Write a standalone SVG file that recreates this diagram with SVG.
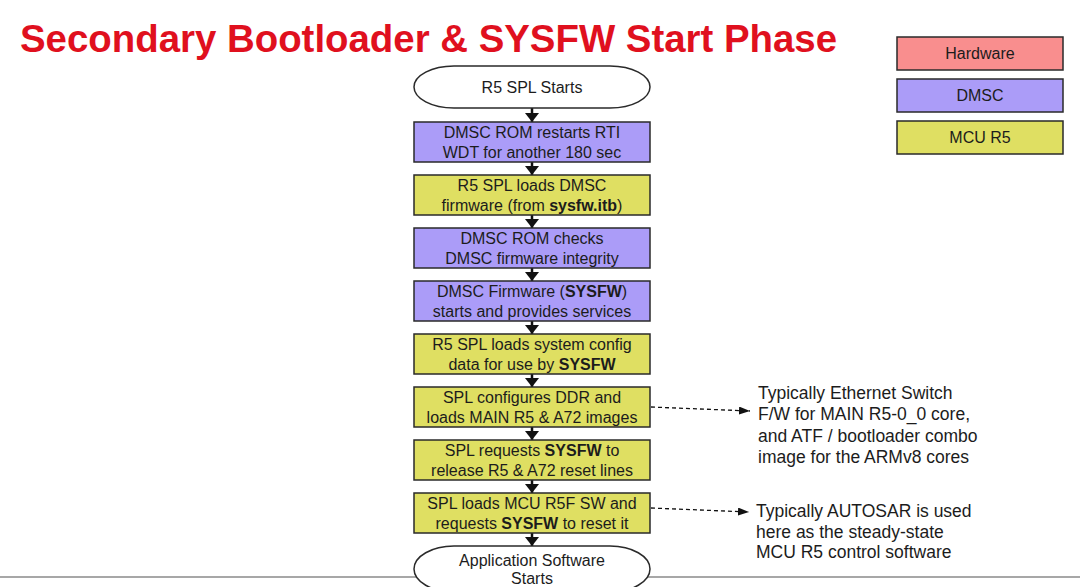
<svg xmlns="http://www.w3.org/2000/svg" width="1080" height="587" viewBox="0 0 1080 587">
<defs>
<style>
.t{font-family:"Liberation Sans",Arial,sans-serif;font-size:16px;fill:#1c1c1c;text-anchor:middle}
.a{font-family:"Liberation Sans",Arial,sans-serif;font-size:17.5px;fill:#1c1c1c}
.b{stroke:#2a2a2a;stroke-width:1.5}
.p{fill:#ab9cf8}
.y{fill:#dfdf62}
.h{fill:#f98e8e}
.c{stroke:#111;stroke-width:2.5;fill:none}
.d{stroke:#111;stroke-width:1.3;fill:none;stroke-dasharray:4 3}
</style>
<marker id="ah" viewBox="0 0 10 10" refX="10" refY="5" markerWidth="9" markerHeight="14" preserveAspectRatio="none" markerUnits="userSpaceOnUse" orient="auto"><path d="M0,0L10,5L0,10z" fill="#111"/></marker>
<marker id="dh" viewBox="0 0 10 10" refX="10" refY="5" markerWidth="11" markerHeight="8" preserveAspectRatio="none" markerUnits="userSpaceOnUse" orient="auto"><path d="M0,0L10,5L0,10z" fill="#111"/></marker>
</defs>
<rect width="1080" height="587" fill="#fff"/>
<line x1="0" y1="577" x2="1080" y2="577" stroke="#8a8a8a" stroke-width="1.5"/>
<text x="20" y="52" font-family="Liberation Sans,Arial,sans-serif" font-size="38.4" font-weight="bold" fill="#e0101e">Secondary Bootloader &amp; SYSFW Start Phase</text>
<g id="connectors">
<path class="c" d="M532,108V122" marker-end="url(#ah)"/>
<path class="c" d="M532,162V175" marker-end="url(#ah)"/>
<path class="c" d="M532,215V228" marker-end="url(#ah)"/>
<path class="c" d="M532,268V281" marker-end="url(#ah)"/>
<path class="c" d="M532,321V334" marker-end="url(#ah)"/>
<path class="c" d="M532,374V387" marker-end="url(#ah)"/>
<path class="c" d="M532,427V440" marker-end="url(#ah)"/>
<path class="c" d="M532,480V493" marker-end="url(#ah)"/>
<path class="c" d="M532,533V546" marker-end="url(#ah)"/>
<path class="d" d="M651,407L750,411" marker-end="url(#dh)"/>
<path class="d" d="M651,508L749,512" marker-end="url(#dh)"/>
</g>
<g id="start"><rect class="b" x="414" y="66" width="236" height="42" rx="40" ry="21" fill="#fff"/><text class="t" x="532" y="93">R5 SPL Starts</text></g>
<g id="n1"><rect class="b p" x="414" y="122" width="236" height="40"/><text class="t" x="532" y="138">DMSC ROM restarts RTI</text><text class="t" x="532" y="158">WDT for another 180 sec</text></g>
<g id="n2"><rect class="b y" x="414" y="175" width="236" height="40"/><text class="t" x="532" y="191">R5 SPL loads DMSC</text><text class="t" x="532" y="211">firmware (from <tspan font-weight="bold">sysfw.itb</tspan>)</text></g>
<g id="n3"><rect class="b p" x="414" y="228" width="236" height="40"/><text class="t" x="532" y="244">DMSC ROM checks</text><text class="t" x="532" y="264">DMSC firmware integrity</text></g>
<g id="n4"><rect class="b p" x="414" y="281" width="236" height="40"/><text class="t" x="532" y="297">DMSC Firmware (<tspan font-weight="bold">SYSFW</tspan>)</text><text class="t" x="532" y="317">starts and provides services</text></g>
<g id="n5"><rect class="b y" x="414" y="334" width="236" height="40"/><text class="t" x="532" y="350">R5 SPL loads system config</text><text class="t" x="532" y="370">data for use by <tspan font-weight="bold">SYSFW</tspan></text></g>
<g id="n6"><rect class="b y" x="414" y="387" width="236" height="40"/><text class="t" x="532" y="403">SPL configures DDR and</text><text class="t" x="532" y="423">loads MAIN R5 &amp; A72 images</text></g>
<g id="n7"><rect class="b y" x="414" y="440" width="236" height="40"/><text class="t" x="532" y="456">SPL requests <tspan font-weight="bold">SYSFW</tspan> to</text><text class="t" x="532" y="476">release R5 &amp; A72 reset lines</text></g>
<g id="n8"><rect class="b y" x="414" y="493" width="236" height="40"/><text class="t" x="532" y="509">SPL loads MCU R5F SW and</text><text class="t" x="532" y="529">requests <tspan font-weight="bold">SYSFW</tspan> to reset it</text></g>
<g id="end"><rect class="b" x="414" y="546" width="236" height="46" rx="40" ry="23" fill="#fff"/><text class="t" x="532" y="566">Application Software</text><text class="t" x="532" y="584">Starts</text></g>
<g id="note1"><text class="a" x="758" y="399">Typically Ethernet Switch</text><text class="a" x="758" y="420">F/W for MAIN R5-0_0 core,</text><text class="a" x="758" y="442">and ATF / bootloader combo</text><text class="a" x="758" y="463">image for the ARMv8 cores</text></g>
<g id="note2"><text class="a" x="756" y="517">Typically AUTOSAR is used</text><text class="a" x="756" y="538">here as the steady-state</text><text class="a" x="756" y="558">MCU R5 control software</text></g>
<g id="legend-hw"><rect class="b h" x="897" y="37" width="166" height="33"/><text class="t" x="980" y="59">Hardware</text></g>
<g id="legend-dmsc"><rect class="b p" x="897" y="79" width="166" height="33"/><text class="t" x="980" y="101">DMSC</text></g>
<g id="legend-mcu"><rect class="b y" x="897" y="121" width="166" height="33"/><text class="t" x="980" y="143">MCU R5</text></g>
</svg>
